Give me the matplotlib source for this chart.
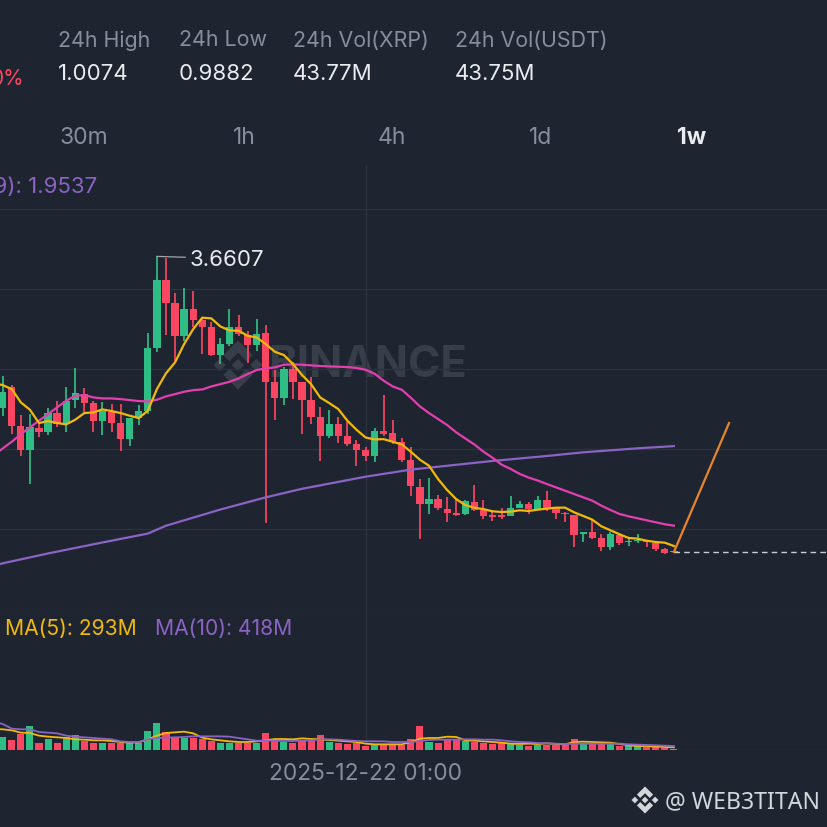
import numpy as np
import matplotlib
matplotlib.use("Agg")
import matplotlib.pyplot as plt
from matplotlib.patches import Polygon
from matplotlib.transforms import Affine2D

# candles
opens = [2.290, 2.479, 2.134, 1.917, 2.113, 2.074, 2.248, 2.149, 2.365, 2.419,
         2.338, 2.176, 2.254, 2.158, 2.013, 2.200, 2.266, 2.831, 3.450, 3.237,
         2.945, 3.183, 3.087, 3.020, 2.774, 2.870, 3.020, 2.951, 2.864, 2.966,
         2.524, 2.386, 2.648, 2.524, 2.362, 2.209, 2.037, 2.149, 2.037, 1.971,
         1.917, 1.860, 2.086, 2.065, 1.983, 1.827, 1.584, 1.427, 1.469, 1.385,
         1.346, 1.334, 1.442, 1.370, 1.326, 1.326, 1.317, 1.389, 1.425, 1.383,
         1.467, 1.389, 1.347, 1.329, 1.155, 1.179, 1.119, 1.040, 1.149, 1.082,
         1.094, 1.100, 1.073, 1.022, 0.992]
closes = [2.434, 2.134, 1.917, 2.119, 2.074, 2.248, 2.149, 2.353, 2.425, 2.338,
          2.176, 2.266, 2.158, 2.013, 2.200, 2.266, 2.831, 3.450, 3.237, 2.945,
          3.183, 3.087, 3.026, 2.771, 2.870, 3.020, 2.960, 2.864, 2.960, 2.524,
          2.386, 2.648, 2.524, 2.362, 2.209, 2.044, 2.149, 2.037, 1.971, 1.917,
          1.860, 2.086, 2.062, 1.983, 1.827, 1.587, 1.427, 1.469, 1.388, 1.349,
          1.328, 1.451, 1.370, 1.322, 1.308, 1.311, 1.389, 1.425, 1.383, 1.467,
          1.395, 1.347, 1.335, 1.152, 1.179, 1.119, 1.040, 1.155, 1.079, 1.097,
          1.106, 1.082, 1.025, 0.986, 1.001]
highs = [2.585, 2.500, 2.230, 2.239, 2.164, 2.296, 2.353, 2.479, 2.651, 2.473,
         2.353, 2.344, 2.329, 2.329, 2.200, 2.320, 2.969, 3.661, 3.643, 3.327,
         3.378, 3.348, 3.111, 3.072, 2.921, 3.183, 3.132, 2.990, 3.096, 3.045,
         2.639, 2.660, 2.705, 2.524, 2.573, 2.302, 2.278, 2.212, 2.170, 2.007,
         1.941, 2.113, 2.410, 2.188, 2.019, 1.938, 1.650, 1.665, 1.511, 1.487,
         1.472, 1.463, 1.602, 1.460, 1.359, 1.389, 1.503, 1.455, 1.443, 1.500,
         1.545, 1.395, 1.359, 1.329, 1.179, 1.287, 1.158, 1.179, 1.155, 1.127,
         1.158, 1.106, 1.082, 1.034, 1.007]
lows = [2.218, 2.058, 1.857, 1.608, 2.028, 2.052, 2.119, 2.074, 2.290, 2.260,
        2.074, 2.052, 2.074, 1.905, 1.953, 2.140, 2.242, 2.801, 2.951, 2.720,
        2.900, 3.020, 2.780, 2.759, 2.690, 2.855, 2.945, 2.699, 2.810, 1.253,
        2.188, 2.320, 2.374, 2.062, 2.152, 1.815, 2.019, 1.977, 1.947, 1.767,
        1.818, 1.806, 2.044, 1.965, 1.803, 1.496, 1.112, 1.337, 1.370, 1.262,
        1.316, 1.328, 1.364, 1.292, 1.275, 1.293, 1.317, 1.389, 1.341, 1.383,
        1.368, 1.296, 1.263, 1.043, 1.082, 1.112, 1.004, 1.016, 1.061, 1.049,
        1.076, 1.040, 1.007, 0.977, 0.986]

# moving averages start one candle before the first visible one
ma_fast = [2.518, 2.500, 2.464, 2.344, 2.278, 2.158, 2.176, 2.158, 2.146, 2.188,
           2.248, 2.254, 2.281, 2.266, 2.248, 2.224, 2.203, 2.269, 2.464, 2.606,
           2.705, 2.870, 3.005, 3.108, 3.102, 3.029, 2.993, 2.990, 2.945, 2.930,
           2.870, 2.801, 2.771, 2.690, 2.591, 2.509, 2.389, 2.338, 2.284, 2.179,
           2.098, 2.028, 2.010, 2.013, 1.989, 1.965, 1.899, 1.827, 1.773, 1.653,
           1.554, 1.472, 1.418, 1.394, 1.382, 1.362, 1.356, 1.359, 1.371, 1.365,
           1.377, 1.386, 1.395, 1.395, 1.353, 1.320, 1.287, 1.227, 1.191, 1.155,
           1.122, 1.115, 1.097, 1.085, 1.079, 1.049]
ma_mid = [1.863, 1.929, 1.989, 2.058, 2.119, 2.179, 2.239, 2.299, 2.359, 2.404,
          2.410, 2.389, 2.380, 2.380, 2.374, 2.365, 2.356, 2.353, 2.368, 2.398,
          2.419, 2.440, 2.455, 2.461, 2.488, 2.509, 2.530, 2.560, 2.600, 2.636,
          2.651, 2.660, 2.684, 2.687, 2.684, 2.678, 2.672, 2.669, 2.666, 2.663,
          2.654, 2.639, 2.603, 2.540, 2.488, 2.458, 2.386, 2.308, 2.248, 2.194,
          2.140, 2.074, 2.019, 1.965, 1.900, 1.845, 1.783, 1.744, 1.699, 1.666,
          1.639, 1.608, 1.578, 1.548, 1.518, 1.488, 1.458, 1.413, 1.374, 1.338,
          1.317, 1.299, 1.281, 1.263, 1.245, 1.233]
ma_slow_idx = [-1, 0, 5, 11, 15, 16, 18, 24, 29, 33, 40, 45, 54, 60, 64, 70, 74]
ma_slow = [0.869, 0.893, 0.982, 1.081, 1.145, 1.161, 1.232, 1.378, 1.488, 1.565,
           1.674, 1.738, 1.816, 1.861, 1.894, 1.930, 1.950]

# volume in millions
volumes = [1634, 1333, 2107, 3139, 903, 1462, 946, 1677, 1935, 1204,
           946, 860, 946, 946, 860, 946, 2451, 3526, 2322, 1634,
           1548, 1548, 1376, 1118, 946, 946, 860, 946, 946, 2193,
           1462, 989, 946, 1247, 1247, 1935, 1032, 946, 817, 903,
           516, 645, 688, 688, 688, 1419, 3139, 1032, 860, 1462,
           1247, 1118, 1032, 946, 774, 860, 817, 602, 473, 602,
           688, 688, 688, 1376, 731, 731, 731, 731, 516, 473,
           473, 430, 387, 301, 129]
vol_ma5 = [2700, 2666, 2537, 2236, 2193, 1849, 1720, 1634, 1548, 1376,
           1333, 1247, 1247, 1161, 1032, 946, 989, 1376, 1849, 2193,
           2279, 2365, 2150, 1591, 1376, 1247, 1118, 1032, 1032, 1118,
           1247, 1419, 1419, 1376, 1505, 1419, 1376, 1290, 1204, 1118,
           1032, 817, 731, 731, 731, 731, 1032, 1462, 1548, 1548,
           1720, 1677, 1247, 1204, 1118, 1032, 946, 817, 774, 817,
           774, 860, 774, 731, 1032, 1075, 1032, 989, 946, 774,
           602, 516, 516, 430, 387, 344]
vol_ma10 = [3700, 3354, 2752, 2666, 2666, 2322, 2236, 2150, 1849, 1720,
            1634, 1548, 1462, 1376, 1118, 1032, 1032, 1376, 1548, 1591,
            1634, 1677, 1763, 1763, 1763, 1763, 1720, 1548, 1376, 1204,
            1204, 1204, 1161, 1161, 1204, 1247, 1376, 1376, 1333, 1247,
            1161, 1118, 1118, 1118, 1032, 1032, 1032, 1161, 1290, 1333,
            1333, 1333, 1376, 1376, 1333, 1333, 1247, 1118, 1032, 989,
            903, 860, 817, 774, 817, 817, 817, 817, 817, 817,
            731, 688, 645, 602, 559, 516]

price_grid = [4.088, 3.367, 2.645, 1.924, 1.202, 0.472]
date_tick = 40
date_label = "2025-12-22 01:00"
peak_label = "3.6607"
last_price = 0.995
sketch_x = [74, 80.08]
sketch_y = [0.995, 2.158]

header_names = ["24h High", "24h Low", "24h Vol(XRP)", "24h Vol(USDT)"]
header_values = ["1.0074", "0.9882", "43.77M", "43.75M"]
header_x = [58, 179, 293, 455]
intervals = ["30m", "1h", "4h", "1d", "1w"]
interval_x = [84, 244, 392, 541, 692]

BG = "#1f2530"
GREEN = "#2ebd85"
RED = "#fb4661"
YELLOW = "#f0b90b"
PINK = "#e33fb0"
PURPLE = "#8a63c4"
GRID = "#2c323d"
GREY = "#848e9c"
WHITE = "#eaecef"

plt.rcParams["font.family"] = ["Inter", "DejaVu Sans"]
W = 828
fig = plt.figure(figsize=(8.28, 8.28), dpi=100, facecolor=BG)


def px_text(x, y, s, **kw):
    kw.setdefault("va", "center")
    fig.text(x / W, 1 - y / W, s, **kw)


def draw_logo(cx, cy, size, color, zorder):
    # binance mark: three diamonds and two chevrons
    d = 0.25
    shapes = [[(0, d), (d, 0), (0, -d), (-d, 0)],
              [(-0.75, d), (-0.75 + d, 0), (-0.75, -d), (-0.75 - d, 0)],
              [(0.75, d), (0.75 + d, 0), (0.75, -d), (0.75 - d, 0)],
              [(0, 1), (0.6, 0.4), (0.35, 0.15), (0, 0.5), (-0.35, 0.15), (-0.6, 0.4)],
              [(0, -1), (0.6, -0.4), (0.35, -0.15), (0, -0.5), (-0.35, -0.15), (-0.6, -0.4)]]
    tr = Affine2D().scale(size).translate(cx, W - cy).scale(1 / W) + fig.transFigure
    for pts in shapes:
        fig.add_artist(Polygon(pts, closed=True, transform=tr, fc=color, ec="none", zorder=zorder))


def style_axes(ax):
    ax.set_facecolor("none")
    for s in ax.spines.values():
        s.set_visible(False)
    ax.set_xlim(-0.298, 90.99)
    ax.set_xticks([date_tick])
    ax.grid(True, color=GRID, lw=1.0)
    ax.set_axisbelow(True)
    ax.tick_params(length=0, labelleft=False, labelbottom=False)


# price panel, y 166 to 611 in the image
ax = fig.add_axes([0, 1 - 611 / W, 1, 445 / W])
style_axes(ax)
ax.set_ylim(0.472, 4.485)
ax.set_yticks(price_grid)

x = np.arange(len(opens))
opens = np.array(opens)
closes = np.array(closes)
colors = [GREEN if c >= o else RED for o, c in zip(opens, closes)]
ax.vlines(x, lows, highs, colors=colors, lw=1.25, zorder=3)
ax.bar(x, np.maximum(np.abs(closes - opens), 0.012), bottom=np.minimum(opens, closes),
       width=0.8, color=colors, zorder=3)

ma_x = np.arange(-1, len(opens))
ax.plot(ma_slow_idx, ma_slow, color=PURPLE, lw=1.6, zorder=4)
ax.plot(ma_x, ma_mid, color=PINK, lw=1.6, zorder=4)
ax.plot(ma_x, ma_fast, color=YELLOW, lw=1.6, zorder=5)

ax.plot([74, 90.99], [last_price, last_price], color="#c9ccd1", lw=1.0, ls=(0, (4, 3)), zorder=4)
ax.plot(sketch_x, sketch_y, color="#e8842c", lw=1.6, zorder=6)

ax.annotate(peak_label, xy=(17, highs[17]), xytext=(23.5, -1.6), textcoords="offset points",
            color=WHITE, fontsize=16, va="center", ha="left",
            arrowprops=dict(arrowstyle="-", color="#a0a4ab", lw=0.9, shrinkA=1, shrinkB=0))

# volume panel, y 611 to 751
ax2 = fig.add_axes([0, 1 - 751 / W, 1, 140 / W])
style_axes(ax2)
ax2.set_ylim(0, 18060)
ax2.set_yticks([0])
ax2.bar(x, volumes, width=0.78, color=colors, zorder=3)
ax2.plot(ma_x, vol_ma5, color=YELLOW, lw=1.3, zorder=4)
ax2.plot(ma_x, vol_ma10, color=PURPLE, lw=1.3, zorder=5)
ax2.set_xticks([date_tick], [date_label])
ax2.tick_params(axis="x", labelbottom=True, labelcolor=GREY, labelsize=16.4, pad=8.5)

# watermark sits behind the axes
px_text(368, 366, "BINANCE", color="#383e49", fontsize=31.4, fontweight="bold", ha="center", zorder=-1)
draw_logo(238, 366, 24.5, "#383e49", -1)

for name, val, hx in zip(header_names, header_values, header_x):
    px_text(hx, 40.5, name, color=GREY, fontsize=15.4)
    px_text(hx, 74, val, color=WHITE, fontsize=16)
px_text(24, 79, "0%", color=RED, fontsize=15, ha="right")
for label, ix in zip(intervals, interval_x):
    is_active = label == "1w"
    px_text(ix, 138.5, label, color=WHITE if is_active else GREY, fontsize=16.5, ha="center",
            fontweight="bold" if is_active else "normal")

px_text(97, 187.5, "MA(99): 1.9537", color=PURPLE, fontsize=16, ha="right")
px_text(5, 628.5, "MA(5): 293M", color=YELLOW, fontsize=15.2, ha="left")
px_text(155, 628.5, "MA(10): 418M", color=PURPLE, fontsize=15.2, ha="left")

draw_logo(645, 801, 13.5, "#d3d6da", 5)
px_text(665, 802, "@ WEB3TITAN", color="#d3d6da", fontsize=16.6, family="Noto Sans", zorder=5)

fig.savefig("out.png", dpi=100, facecolor=BG)
